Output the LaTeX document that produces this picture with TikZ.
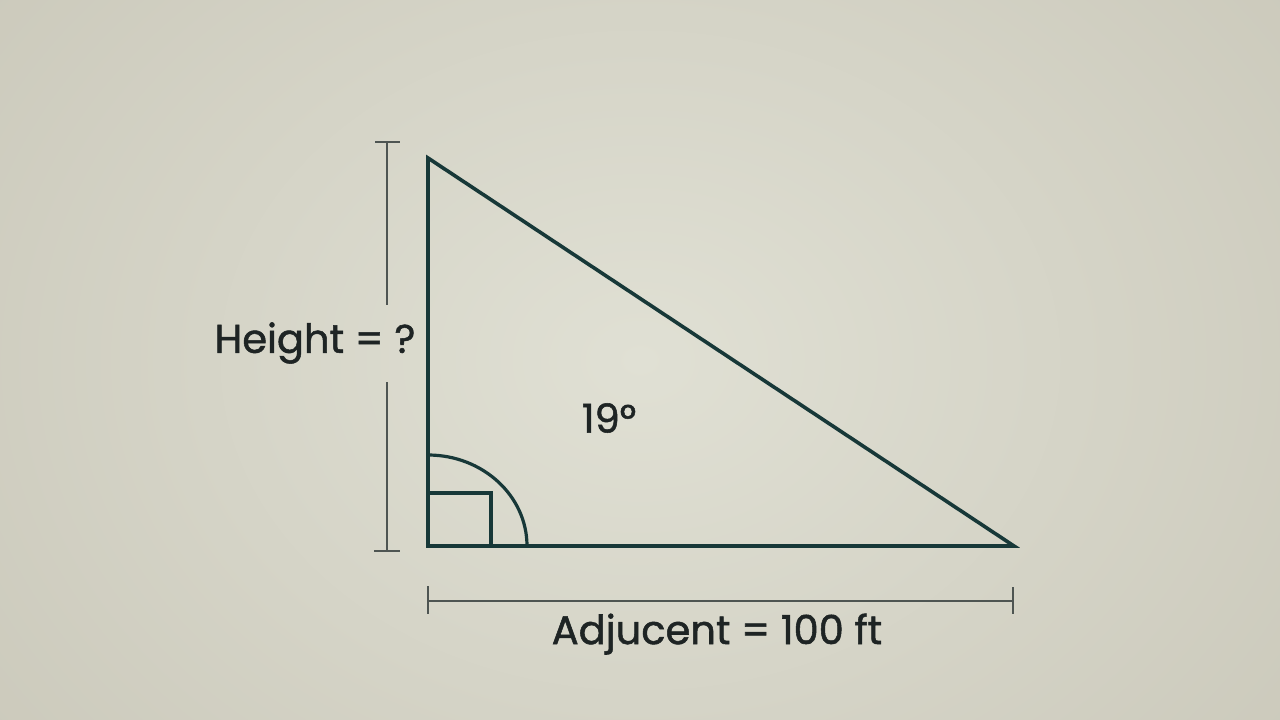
\documentclass[tikz,border=0pt]{standalone}
\usepackage{fontspec}
\setmainfont{Poppins}[FakeBold=1.3]
\definecolor{tri}{HTML}{173838}
\definecolor{dim}{HTML}{4E5552}
\definecolor{txt}{HTML}{1E2424}
\definecolor{bgin}{HTML}{E0E0D4}
\definecolor{bgout}{HTML}{CBC9BB}
\begin{document}
\begin{tikzpicture}[x=1pt,y=-1pt,
  triline/.style={draw=tri,line width=3.6pt,line join=miter},
  dimline/.style={draw=dim,line width=1.6pt},
  lbl/.style={text=txt,font=\fontsize{40}{44}\selectfont,inner sep=0pt}]
\useasboundingbox (0,0) rectangle (1280,720);
\shade[inner color=bgin,outer color=bgout] (-200,-300) rectangle (1480,1020);
% triangle
\coordinate (A) at (428,158);
\coordinate (B) at (428,546);
\coordinate (C) at (1014,546);
\draw[triline] (A) -- (B) -- (C) -- cycle;
% right angle marks
\draw[triline,line width=3.2pt] (428,493) -- (491,493) -- (491,546);
\draw[triline,line width=3.2pt] (428,455) arc[start angle=-90,end angle=0,x radius=99,y radius=91];
% labels
\node[lbl] (h) at (315,343) {Height = ?};
\node[lbl] (ang) at (609,418) {19°};
\node[lbl] (adj) at (717,634) {Adjucent = 100 ft};
% left dimension
\coordinate (lt) at (387,142);
\coordinate (lb) at (387,551);
\draw[dimline] (375,142) -- (400,142);
\draw[dimline] (374,551) -- (400,551);
\draw[dimline] (lt) -- (387,305);
\draw[dimline] (387,382) -- (lb);
% bottom dimension
\coordinate (bl) at (428,601);
\coordinate (br) at (1013,601);
\draw[dimline] (bl) -- (br);
\draw[dimline] (428,586) -- (428,614);
\draw[dimline] (1013,587) -- (1013,614);
\end{tikzpicture}
\end{document}
